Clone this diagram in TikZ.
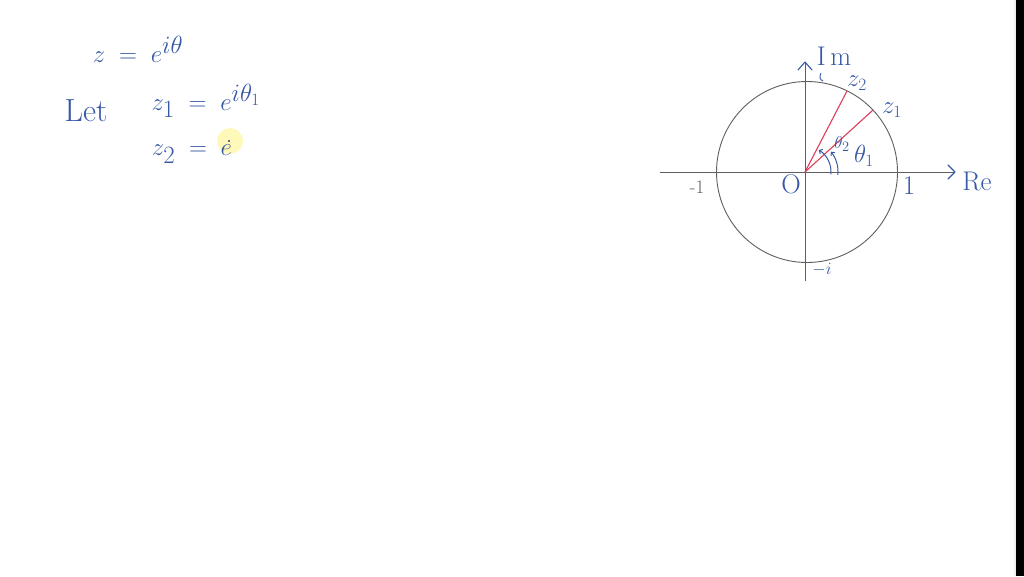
\documentclass[tikz,border=0pt]{standalone}
\usetikzlibrary{arrows.meta}
\definecolor{ink}{RGB}{55,88,165}
\definecolor{axisgray}{RGB}{95,95,95}
\definecolor{redline}{RGB}{222,62,88}
\definecolor{hilite}{RGB}{255,249,185}
\begin{document}
\begin{tikzpicture}[x=1pt,y=-1pt,
  hand/.style={text=ink, inner sep=0pt},
  big/.style={hand, font=\fontsize{32}{36}\selectfont},
  eqn/.style={hand, font=\fontsize{36}{40}\selectfont},
  mid/.style={hand, font=\fontsize{27}{30}\selectfont},
  small/.style={hand, font=\fontsize{19}{22}\selectfont},
  axisline/.style={draw=axisgray, line width=0.9pt},
  barb/.style={draw=ink, line width=1.1pt, line cap=round, line join=round},
  radius line/.style={draw=redline, line width=1.1pt},
  anglearc/.style={draw=ink, line width=1pt, -{Straight Barb[length=2.5pt,width=5pt]}}]
\useasboundingbox (0,0) rectangle (1024,576);
\fill[white] (0,0) rectangle (1024,576);
\fill[black] (1016,0) rectangle (1024,576);
\fill[black!6] (1014,0) rectangle (1016,576);

% cursor highlight
\fill[hilite] (230,141) circle (13);
\fill[ink!70!black] (229,141) circle (1.2);

% left hand-written text
\node[eqn] (eq1) at (138,49) {$z \;=\; e^{i\theta}$};
\node[big] (let) at (86,111) {Let};
\node[eqn] (eq2) at (206,101) {$z_1 \;=\; e^{i\theta_1}$};
\node[eqn] (eq3) at (192,154) {$z_2 \;=\; e$};

% unit circle diagram
\coordinate (O) at (805,172);
\coordinate (C) at (807,172);
\coordinate (xl) at (660,172);
\coordinate (xr) at (955,172);
\coordinate (yb) at (805,281);
\coordinate (yt) at (805,62);
\draw[axisline] (C) circle (90.5);
\draw[axisline] (xl) -- (xr);
\draw[axisline] (yb) -- (yt);
\draw[barb] ([shift={(-7,-7)}]xr) -- (xr) -- ([shift={(-7,7)}]xr);
\draw[barb] ([shift={(-7,8)}]yt) -- (yt) -- ([shift={(7,8)}]yt);

\coordinate (Z1) at (873,110);
\coordinate (Z2) at (847,91);
\draw[radius line] (O) -- (Z1);
\draw[radius line] (O) -- (Z2);

\draw[anglearc] ([shift={(5:26)}]O) arc[start angle=5, end angle=-58, radius=26];
\draw[anglearc] ([shift={(5:33)}]O) arc[start angle=5, end angle=-38, radius=33];

% small mark near i
\draw[ink, line width=0.9pt] (821,73) .. controls (819,77) and (820,80) .. (823,81);

\node[mid] (im) at (834,56) {I\,m};
\node[mid] (re) at (977,181) {Re};
\node[mid] (z2) at (857,83) {$z_2$};
\node[mid] (z1) at (892,110) {$z_1$};
\node[small] (t2) at (842,144) {$\theta_2$};
\node[mid] (t1) at (864,156) {$\theta_1$};
\node[mid] (o) at (791,184) {O};
\node[mid] (one) at (909,186) {1};
\node[small, text=axisgray] (m1) at (697,187) {-1};
\node[small] (mi) at (822,270) {$-i$};
\end{tikzpicture}
\end{document}
